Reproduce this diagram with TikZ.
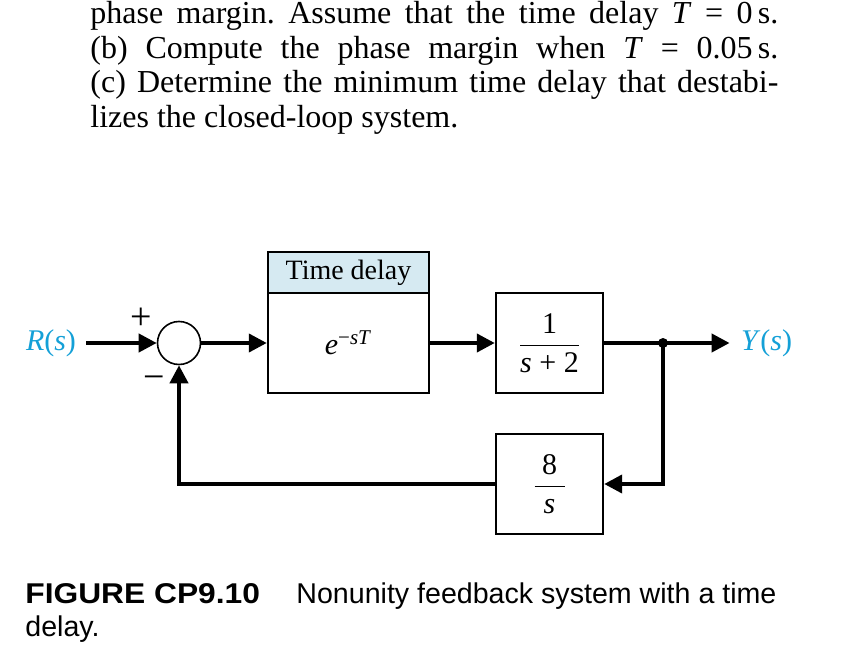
\documentclass[tikz,border=0pt]{standalone}
\usepackage{fontspec}
\usepackage{graphicx}
\setmainfont{Liberation Serif}
\setsansfont{Liberation Sans}
\usetikzlibrary{arrows.meta,positioning}
\definecolor{sigblue}{RGB}{20,160,215}
\definecolor{headblue}{RGB}{214,234,242}
\frenchspacing

\begin{document}
\begin{tikzpicture}[x=0.5pt, y=-0.5pt, >={Triangle[length=9pt,width=9pt]},
  block/.style={draw, line width=1.2pt, minimum width=53.5pt, minimum height=50pt, inner sep=0pt, font=\fontsize{15}{18}\selectfont},
  sumnode/.style={draw, circle, line width=0.8pt, minimum size=21.5pt, inner sep=0pt},
  signal/.style={line width=2pt},
  sig/.style={text=sigblue, inner sep=0pt, font=\fontsize{15}{18}\selectfont},
  sign/.style={inner sep=0pt, font=\fontsize{19}{22}\selectfont},
  body/.style={anchor=base west, inner sep=0pt, font=\fontsize{16}{19}\selectfont},
  caption/.style={anchor=base west, inner sep=0pt, font=\sffamily\fontsize{14.3}{17}\selectfont}]
\useasboundingbox (0,0) rectangle (846,652);
% exercise text
\node[body] (txtA) at (90,24) {\makebox[344pt][s]{phase margin. Assume that the time delay \textit{T} = 0\,s.}};
\node[body] (txtB) at (90,58.5) {\makebox[344pt][s]{(b) Compute the phase margin when \textit{T} = 0.05\,s.}};
\node[body] (txtC) at (90,93) {\makebox[344pt][s]{(c) Determine the minimum time delay that destabi-}};
\node[body] (txtD) at (90,127.5) {lizes the closed-loop system.};
% block diagram
\node[sig] (R) at (51,343) {\textit{R}(\textit{s})};
\node[sumnode] (sum) at (179,343) {};
\node[block, fill=headblue, minimum width=80.5pt, minimum height=20.5pt, font=\fontsize{14}{17}\selectfont] (delayhead) at (348.5,272.5) {Time delay};
\node[block, minimum width=80.5pt] (delay) at (348.5,343) {\textit{e}\textsuperscript{−\textit{sT}}};
\node[block] (G) at (549.5,343) {$\displaystyle\frac{\mbox{1}}{\mbox{\textit{s} + 2}}$};
\node[block] (H) at (549.5,484) {$\displaystyle\frac{\mbox{\makebox[15pt]{8}}}{\mbox{\textit{s}}}$};
\node[sig] (Y) at (766.5,343) {\textit{Y}(\textit{s})};
\coordinate (branch) at (663,343);
\node[sign] (plus) at (141,319) {+};
\node[sign] (minus) at (154,383) {−};
\draw[signal, ->, shorten <=5pt] (R) -- (sum);
\draw[signal, ->] (sum) -- (delay);
\draw[signal, ->] (delay) -- (G);
\draw[signal, ->, shorten >=5.5pt] (G) -- (Y);
\fill (branch) circle (2.5pt);
\draw[signal, ->] (branch) |- (H);
\draw[signal, ->] (H) -| (sum);
% caption
\node[caption] (figlabel) at (25,603) {\bfseries\scalebox{1.11}[1]{FIGURE CP9.10}};
\node[caption] (figtext) at (296,603) {Nonunity feedback system with a time};
\node[caption] (figtext2) at (25,636) {delay.};
\end{tikzpicture}
\end{document}
